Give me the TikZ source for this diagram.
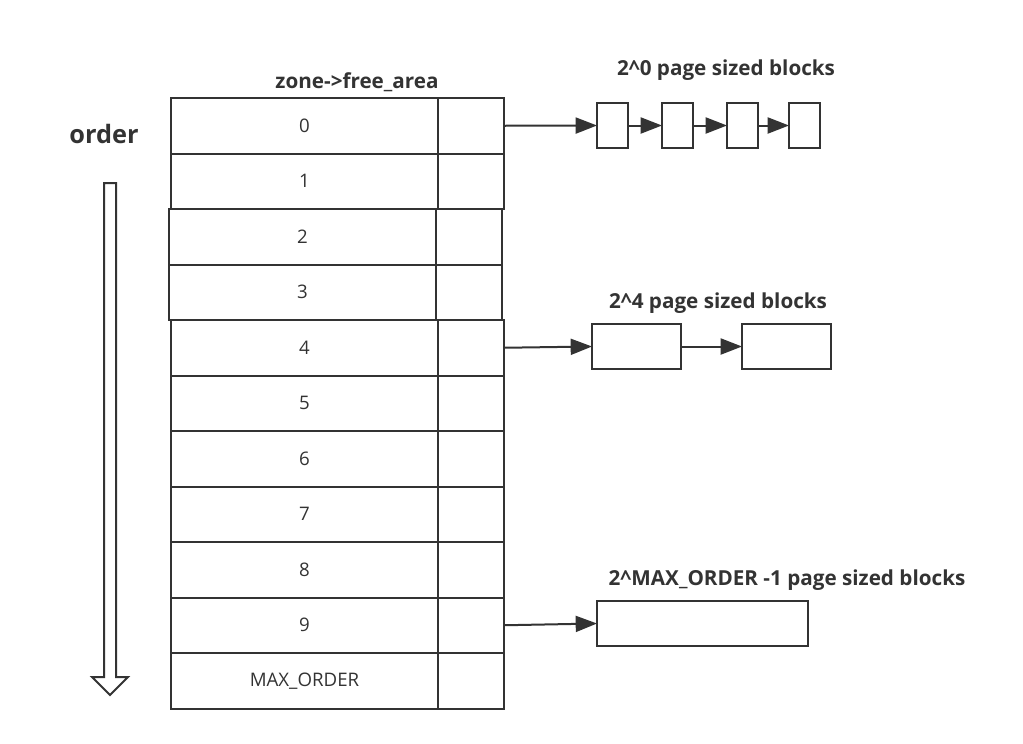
\documentclass[tikz,border=0pt]{standalone}
\usepackage{fontspec}
\setmainfont{Open Sans}
\usetikzlibrary{arrows.meta}
\definecolor{ink}{HTML}{333333}
\begin{document}
\begin{tikzpicture}[x=0.75pt,y=-0.75pt,
  cell/.style={draw=ink,line width=1.5pt,minimum height=55.5*0.75pt,inner sep=0,outer sep=0,anchor=north west,text=ink,font=\fontsize{14}{16}\selectfont},
  blk/.style={draw=ink,line width=1.5pt,inner sep=0,outer sep=0,anchor=north west,minimum height=45*0.75pt},
  arr/.style={draw=ink,line width=1.5pt,-{Triangle[length=16pt,width=12pt]}},
  lbl/.style={text=ink,font=\bfseries\fontsize{15.5}{17}\selectfont}]
\useasboundingbox (0,0) rectangle (1023,743);
\fill[white] (0,0) rectangle (1023,743);
\foreach \i/\t/\y/\dx in {0/0/98/0,1/1/153.5/0,2/2/209/-2,3/3/264.5/-2,4/4/320/0,5/5/375.5/0,6/6/431/0,7/7/486.5/0,8/8/542/0,9/9/597.5/0,10/MAX\_ORDER/653/0}{
  \node[cell,minimum width=267*0.75pt] (c\i) at (171+\dx,\y) {\t};
  \node[cell,minimum width=66*0.75pt] (p\i) at (438+\dx,\y) {};
}
\node[lbl] (title) at (357,82) {zone->free\_area};
\node[text=ink,font=\bfseries\fontsize{19}{21}\selectfont] (order) at (104,134) {order};
\draw[ink,line width=1.5pt,fill=white] (104,183) -- (116,183) -- (116,677) -- (128,677) -- (110,695) -- (92,677) -- (104,677) -- cycle;
% order 0
\node[lbl] (l0) at (726,70) {2\^{}0 page sized blocks};
\foreach \k/\x in {1/597,2/662,3/727,4/789}{
  \node[blk,minimum width=31*0.75pt] (a\k) at (\x,103) {};
}
\draw[arr] (p0.east) -- (a1.west);
\draw[arr] (a1.east) -- (a2.west);
\draw[arr] (a2.east) -- (a3.west);
\draw[arr] (a3.east) -- (a4.west);
% order 4
\node[lbl] (l4) at (718,303) {2\^{}4 page sized blocks};
\node[blk,minimum width=89*0.75pt] (b1) at (592,324) {};
\node[blk,minimum width=89*0.75pt] (b2) at (742,324) {};
\draw[arr] (p4.east) -- (b1.west);
\draw[arr] (b1.east) -- (b2.west);
% order 9
\node[lbl] (l9) at (787,580) {2\^{}MAX\_ORDER -1 page sized blocks};
\node[blk,minimum width=211*0.75pt] (m1) at (597,601) {};
\draw[arr] (p9.east) -- (m1.west);
\end{tikzpicture}
\end{document}
